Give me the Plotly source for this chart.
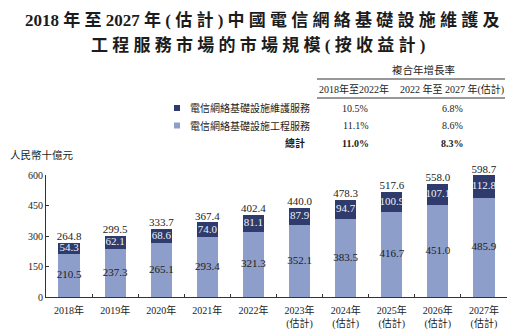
import plotly.graph_objects as go

# ---- data ----
years = ["2018年", "2019年", "2020年", "2021年", "2022年",
         "2023年<br>(估計)", "2024年<br>(估計)", "2025年<br>(估計)",
         "2026年<br>(估計)", "2027年<br>(估計)"]
engineering = [210.5, 237.3, 265.1, 293.4, 321.3, 352.1, 383.5, 416.7, 451.0, 485.9]
maintenance = [54.3, 62.1, 68.6, 74.0, 81.1, 87.9, 94.7, 100.9, 107.1, 112.8]
totals = [264.8, 299.5, 333.7, 367.4, 402.4, 440.0, 478.3, 517.6, 558.0, 598.7]

series_names = ["電信網絡基礎設施維護服務", "電信網絡基礎設施工程服務", "總計"]
cagr_hist = ["10.5%", "11.1%", "11.0%"]
cagr_fcst = ["6.8%", "8.6%", "8.3%"]

DARK = "#2f3b6c"
LIGHT = "#8e9ecb"
FONT = "Liberation Serif, Noto Sans CJK TC, serif"
W, H = 523, 333
L, R, T, B = 46, 507, 175, 297  # plot area in pixels


def px(x):
    return (x - L) / (R - L)


def py(y):
    return (B - y) / (B - T)


def spaced(s):
    """Spread characters apart, keeping digit runs together."""
    out = ""
    for i, ch in enumerate(s):
        out += ch
        if i + 1 < len(s) and not (ch.isdigit() and s[i + 1].isdigit()):
            out += " "
    return out


fig = go.Figure()
fig.add_bar(x=years, y=engineering, marker_color=LIGHT, marker_line_width=0,
            name=series_names[1])
fig.add_bar(x=years, y=maintenance, marker_color=DARK, marker_line_width=0,
            name=series_names[0])

# segment labels, centred in each segment
fig.add_scatter(x=years, y=[v / 2 for v in engineering], mode="text",
                text=[f"{v:.1f}" for v in engineering], textposition="middle center",
                textfont=dict(family=FONT, size=11, color="#1c1c1c"),
                cliponaxis=False, showlegend=False)
fig.add_scatter(x=years, y=[e + m / 2 for e, m in zip(engineering, maintenance)],
                mode="text", text=[f"{v:.1f}" for v in maintenance],
                textposition="middle center",
                textfont=dict(family=FONT, size=11, color="#eef0f7"),
                cliponaxis=False, showlegend=False)
fig.add_scatter(x=years, y=totals, mode="text",
                text=[f"{v:.1f}" for v in totals], textposition="top center",
                textfont=dict(family=FONT, size=11, color="#1c1c1c"),
                cliponaxis=False, showlegend=False)

fig.update_layout(
    width=W, height=H, barmode="stack", bargap=0.54,
    margin=dict(l=L, r=W - R, t=T, b=H - B),
    plot_bgcolor="white", paper_bgcolor="white", showlegend=False,
    font=dict(family=FONT, size=10, color="#1c1c1c"),
)
fig.update_xaxes(showline=True, linecolor="#333", linewidth=1, ticks="inside",
                 ticklen=3, tickcolor="#333", tickson="boundaries",
                 range=[-0.5, 9.5], tickfont=dict(family=FONT, size=10),
                 ticklabelstandoff=4, showgrid=False, automargin=False)
fig.update_yaxes(showline=True, linecolor="#333", linewidth=1, ticks="inside",
                 ticklen=3, tickcolor="#333", range=[0, 600], dtick=150,
                 tickfont=dict(family=FONT, size=10), showgrid=False,
                 zeroline=False, automargin=False)

ann = []
# title
ann.append(dict(text="<b>" + spaced("2018年至2027年(估計)中國電信網絡基礎設施維護及") + "</b>",
                x=px(262), y=py(20), font=dict(size=17)))
ann.append(dict(text="<b>" + spaced("工程服務市場的市場規模(按收益計)") + "</b>",
                x=px(258), y=py(45), font=dict(size=17)))
# unit label
ann.append(dict(text="人民幣十億元", x=px(8), y=py(155), xanchor="left",
                font=dict(size=10.5)))
# growth table
ann.append(dict(text="複合年增長率", x=px(423), y=py(70), font=dict(size=10.5)))
ann.append(dict(text="2018年至2022年", x=px(354), y=py(89), font=dict(size=10)))
ann.append(dict(text="2022 年至 2027 年(估計)", x=px(452), y=py(89), font=dict(size=10)))
rows_y = [108, 125.5, 143]
for i, yy in enumerate(rows_y):
    bold = i == 2
    name = series_names[i]
    if bold:
        ann.append(dict(text=f"<b>{name}</b>", x=px(307), y=py(yy), xanchor="right",
                        font=dict(size=10)))
    else:
        ann.append(dict(text=name, x=px(188), y=py(yy), xanchor="left",
                        font=dict(size=10)))
    h = f"<b>{cagr_hist[i]}</b>" if bold else cagr_hist[i]
    f = f"<b>{cagr_fcst[i]}</b>" if bold else cagr_fcst[i]
    ann.append(dict(text=h, x=px(355), y=py(yy), font=dict(size=10)))
    ann.append(dict(text=f, x=px(452), y=py(yy), font=dict(size=10)))

for a in ann:
    a.update(xref="paper", yref="paper", showarrow=False)
    a.setdefault("xanchor", "center")
    a["yanchor"] = "middle"
fig.update_layout(annotations=ann)

shapes = [
    dict(type="line", x0=px(317), x1=px(505), y0=py(79), y1=py(79),
         line=dict(color="#333", width=1)),
    dict(type="line", x0=px(317), x1=px(505), y0=py(98), y1=py(98),
         line=dict(color="#333", width=1)),
    dict(type="rect", x0=px(174), x1=px(180), y0=py(111), y1=py(105),
         fillcolor=DARK, line=dict(width=0)),
    dict(type="rect", x0=px(174), x1=px(180), y0=py(128.5), y1=py(122.5),
         fillcolor=LIGHT, line=dict(width=0)),
]
for s in shapes:
    s.update(xref="paper", yref="paper")
fig.update_layout(shapes=shapes)

fig.write_html("out.html")
